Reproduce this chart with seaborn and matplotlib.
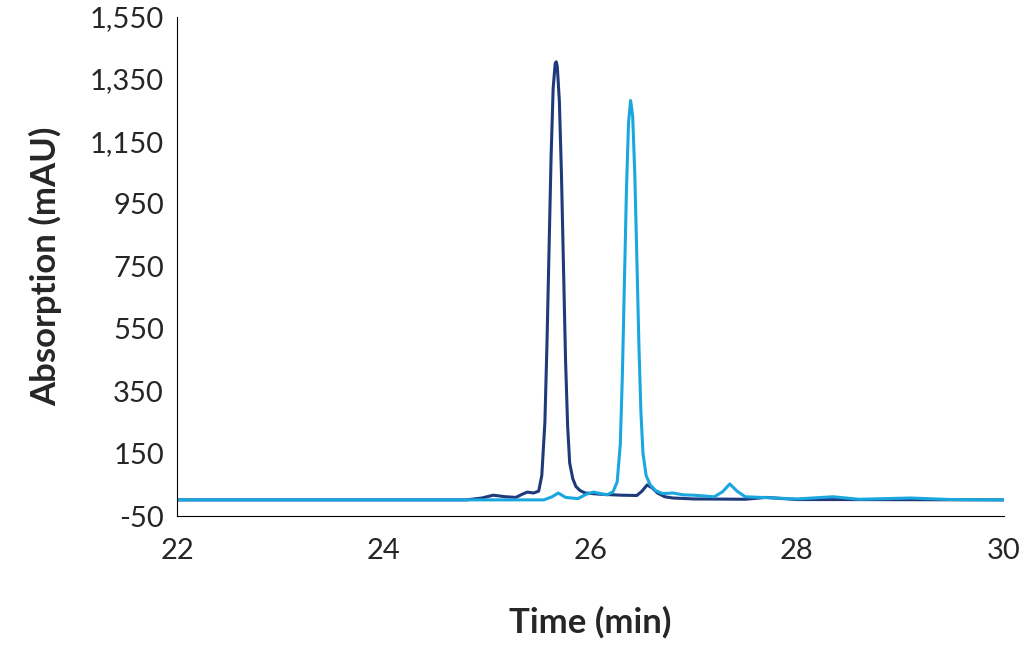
import numpy as np
import pandas as pd
import matplotlib
matplotlib.use("Agg")
import matplotlib.pyplot as plt
import seaborn as sns
from matplotlib.ticker import FuncFormatter

# sample 1 (dark)
time_dark = [22.0, 24.8, 24.95, 25.06, 25.18, 25.28, 25.34, 25.39, 25.45, 25.5, 25.53, 25.56, 25.58,
             25.6, 25.62, 25.64, 25.66, 25.67, 25.68, 25.7, 25.72, 25.74, 25.76, 25.78, 25.8,
             25.83, 25.86, 25.9, 25.95, 26.1, 26.3, 26.45, 26.5, 26.55, 26.6, 26.65, 26.72, 26.8,
             27.0, 27.5, 27.7, 28.0, 28.5, 30.0]
abs_dark = [2, 2, 8, 17, 12, 10, 20, 27, 24, 30, 80, 250, 500,
            800, 1100, 1320, 1400, 1405, 1390, 1280, 1050, 750, 450, 240, 120,
            70, 45, 32, 24, 20, 17, 16, 30, 50, 40, 24, 12, 8,
            5, 4, 10, 3, 3, 2]

# sample 2 (light)
time_light = [22.0, 25.55, 25.63, 25.69, 25.76, 25.88, 25.96, 26.03, 26.1, 26.16, 26.22, 26.26,
              26.29, 26.31, 26.33, 26.35, 26.37, 26.39, 26.41, 26.43, 26.45, 26.47, 26.49, 26.51,
              26.54, 26.58, 26.63, 26.7, 26.8, 26.9, 27.0, 27.2, 27.28, 27.35, 27.42, 27.5,
              28.0, 28.35, 28.6, 29.1, 29.5, 30.0]
abs_light = [2, 2, 12, 24, 10, 6, 20, 27, 22, 18, 28, 60,
             180, 400, 700, 1000, 1210, 1281, 1230, 1050, 780, 500, 280, 150,
             80, 50, 32, 22, 24, 18, 17, 12, 28, 53, 30, 12,
             5, 12, 4, 8, 3, 2]

df = pd.concat([
    pd.DataFrame({"Time": time_dark, "Abs": abs_dark, "Sample": "A"}),
    pd.DataFrame({"Time": time_light, "Abs": abs_light, "Sample": "B"}),
])

sns.set_style("white")
plt.rcParams["font.family"] = ["Lato", "DejaVu Sans"]

fig, ax = plt.subplots(figsize=(10.24, 6.6), dpi=100)
sns.lineplot(data=df, x="Time", y="Abs", hue="Sample", palette=["#1f3a7a", "#1aa7e0"],
             linewidth=2.2, legend=False, ax=ax, sort=False)

ax.set_xlim(22, 30)
ax.set_ylim(-50, 1550)
ax.set_xticks([22, 24, 26, 28, 30])
ax.set_yticks(np.arange(-50, 1551, 200))
ax.yaxis.set_major_formatter(FuncFormatter(lambda v, p: f"{int(v):,}"))
ax.tick_params(axis="both", labelsize=21, length=6, direction="out", color="black")
ax.tick_params(axis="x", length=8, pad=8)
ax.spines["top"].set_visible(False)
ax.spines["right"].set_visible(False)
ax.spines["left"].set_color("black")
ax.spines["bottom"].set_color("black")
ax.set_xlabel("Time (min)", fontsize=25, fontweight="bold", labelpad=30)
ax.set_ylabel("Absorption (mAU)", fontsize=25, fontweight="bold", labelpad=20)

plt.subplots_adjust(left=0.173, right=0.98, top=0.975, bottom=0.218)
plt.savefig("out.png", dpi=100)
